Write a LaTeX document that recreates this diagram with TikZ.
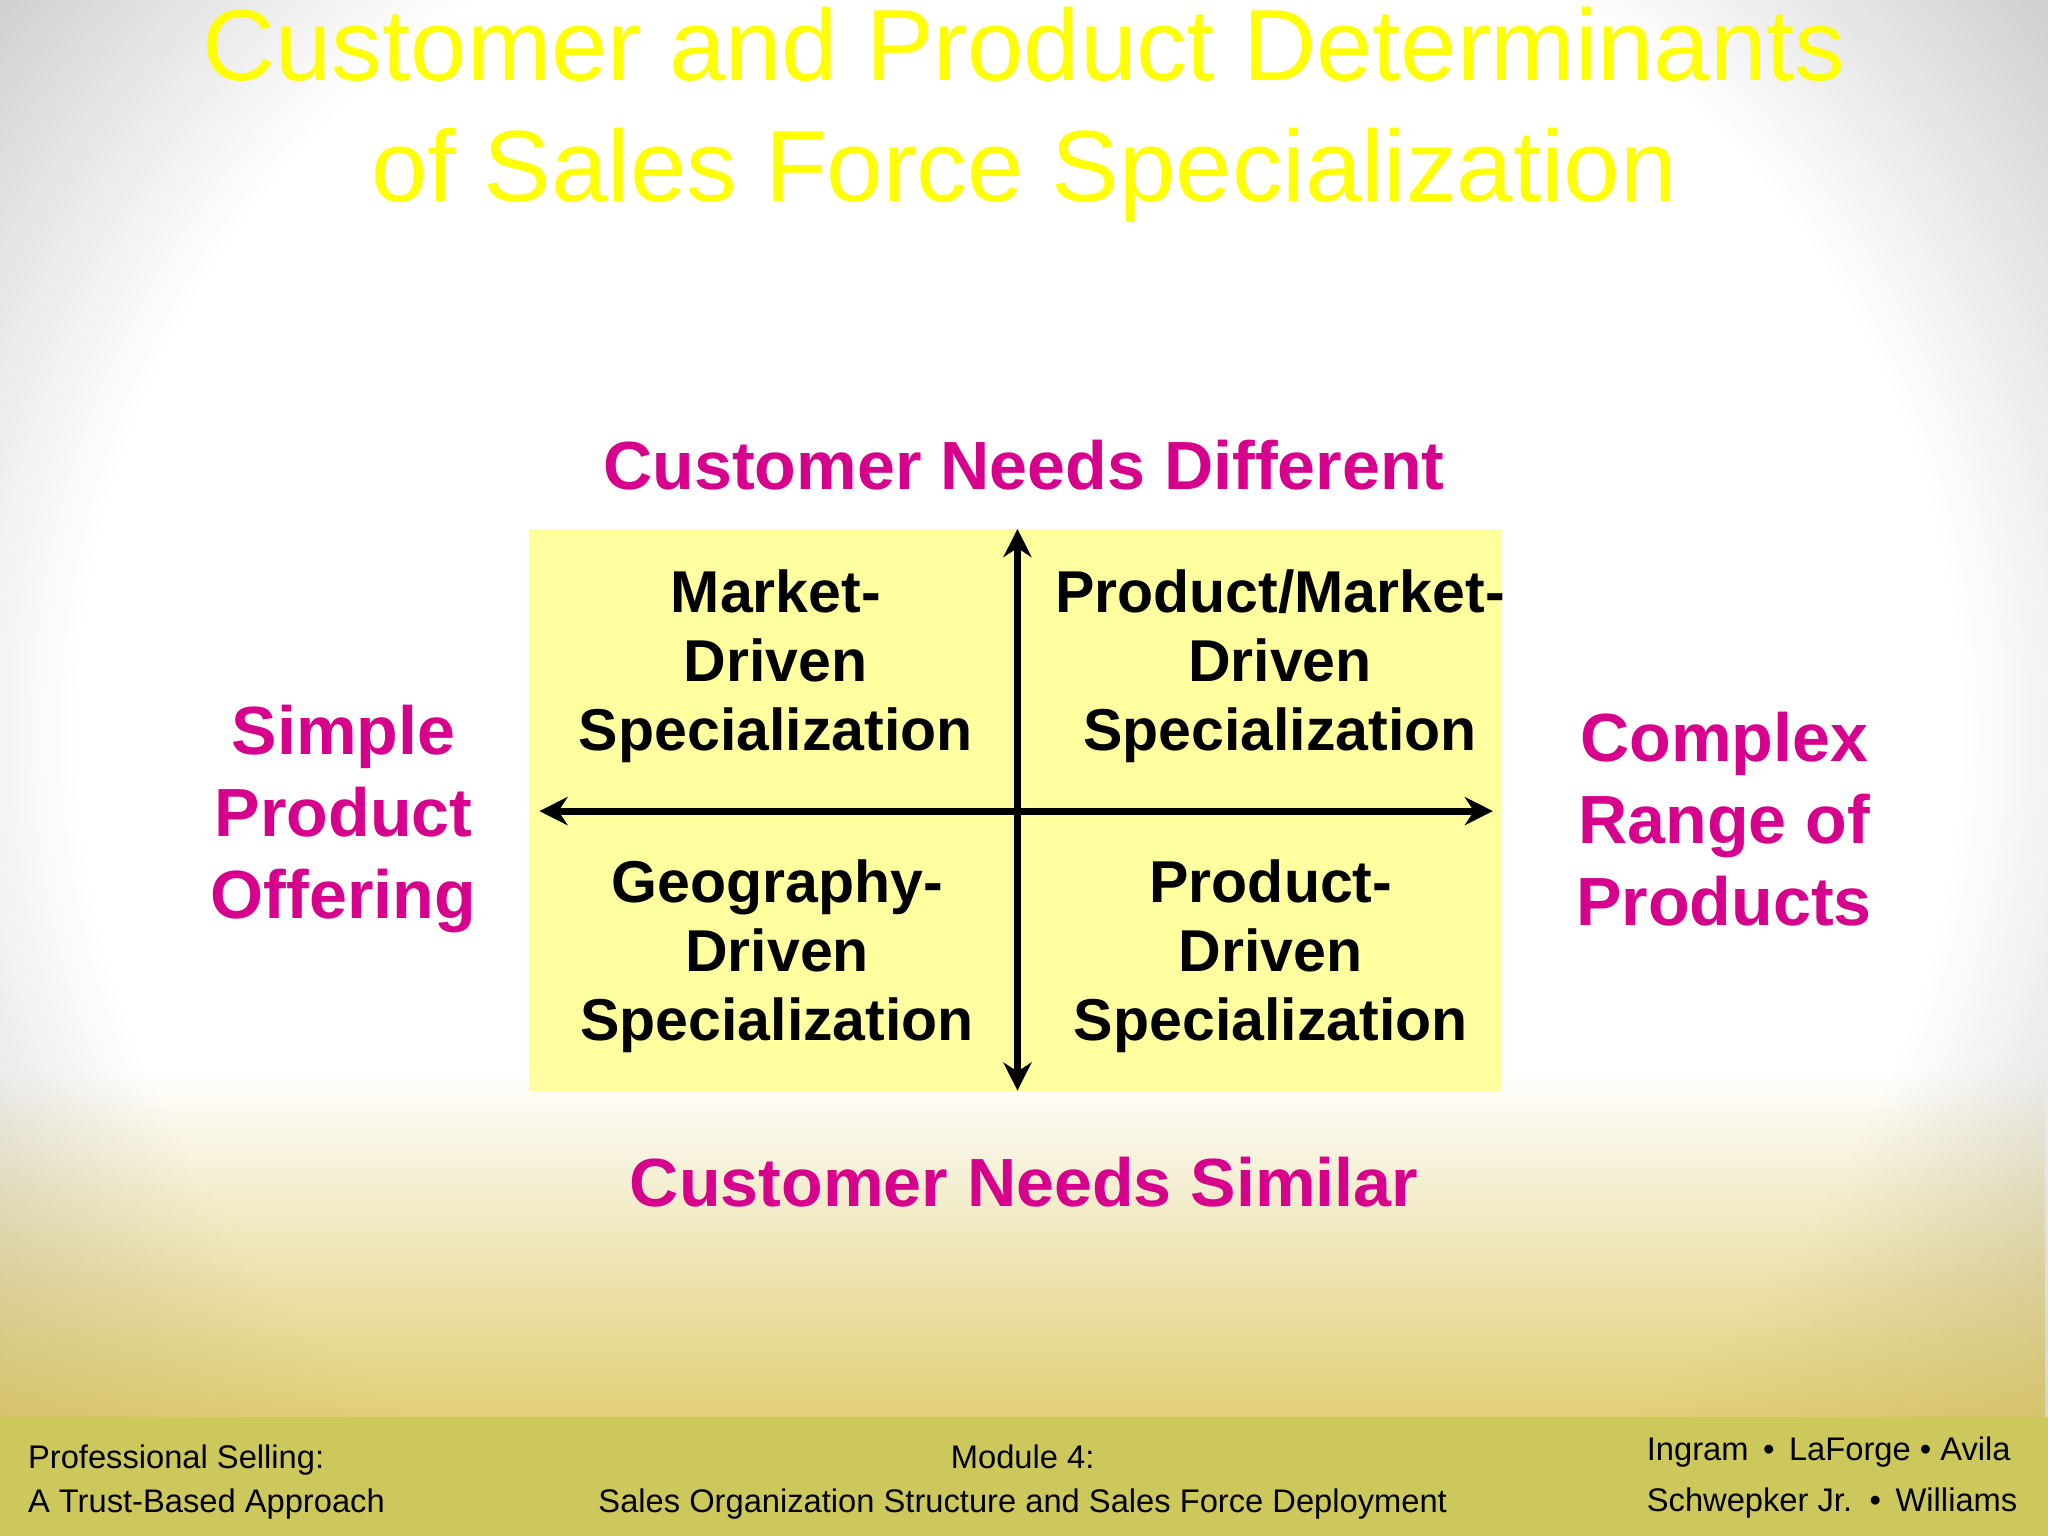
\documentclass[tikz,border=0pt]{standalone}
\usepackage{fontspec}
\setmainfont{Liberation Sans}
\usetikzlibrary{arrows.meta, positioning, fadings}
\definecolor{titleyellow}{RGB}{255,255,0}
\definecolor{labelpink}{RGB}{214,0,140}
\definecolor{boxyellow}{RGB}{255,255,160}
\definecolor{footband}{RGB}{204,200,92}
\definecolor{warmglow}{RGB}{215,190,70}
\pgfdeclareradialshading{glow}{\pgfpoint{0cm}{0cm}}{color(0bp)=(white); color(18bp)=(white); color(32bp)=(black!40); color(42bp)=(black!85); color(50bp)=(black)}

\begin{document}
\begin{tikzpicture}[x=0.01306cm, y=-0.01306cm,
    quad/.style={font=\fontsize{16.8}{19.6}\selectfont\bfseries, align=center},
    axislabel/.style={font=\fontsize{19.4}{23.5}\selectfont\bfseries, text=labelpink, align=center},
    footnote/.style={font=\fontsize{9.3}{12.5}\selectfont, text=black},
    axis/.style={line width=2pt, {Stealth[length=8pt,width=8pt]}-{Stealth[length=8pt,width=8pt]}}]
    % Background
    \useasboundingbox (0,0) rectangle (1568,1176);
    \fill[black] (0,0) rectangle (1568,1176);
    \shade[shading=glow] (780,560) ellipse (1000 and 950);
    \fill[warmglow, path fading=north, opacity=0.75] (0,820) rectangle (1568,1090);
    \fill[footband] (0,1085) rectangle (1568,1176);

    % Title
    \node[font=\fontsize{28.8}{34.5}\selectfont, text=titleyellow, align=center] (title) at (784,88)
        {Customer and Product Determinants\\of Sales Force Specialization};

    % Matrix
    \fill[boxyellow] (405,405) rectangle (1150,835);
    \coordinate (top) at (779,405);
    \coordinate (bottom) at (779,835);
    \coordinate (left) at (413,621);
    \coordinate (right) at (1143,621);
    \draw[axis] (top) -- (bottom);
    \draw[axis] (left) -- (right);

    \node[quad] (market) at (594,510) {Market-\\Driven\\Specialization};
    \node[quad] (prodmarket) at (980,510) {Product/Market-\\Driven\\Specialization};
    \node[quad] (geo) at (595,732) {Geography-\\Driven\\Specialization};
    \node[quad] (product) at (973,732) {Product-\\Driven\\Specialization};

    % Axis labels
    \node[axislabel] (different) at (784,356) {Customer Needs Different};
    \node[axislabel] (similar) at (784,905) {Customer Needs Similar};
    \node[axislabel, font=\fontsize{19.4}{23.3}\selectfont\bfseries] (simple) at (263,627) {Simple\\Product\\Offering};
    \node[axislabel, font=\fontsize{19.4}{23.3}\selectfont\bfseries] (complex) at (1320,627) {Complex\\Range of\\Products};

    % Footer
    \node[footnote, anchor=west, align=left] (book) at (12,1135) {Professional Selling:\\A Trust-Based Approach};
    \node[footnote, align=center] (module) at (783,1135) {Module 4:\\Sales Organization Structure and Sales Force Deployment};
    \node[footnote, anchor=east, align=left] (authors) at (1554,1131) {Ingram \,•\, LaForge • Avila\\[2pt]Schwepker Jr. \,•\, Williams};
\end{tikzpicture}
\end{document}
